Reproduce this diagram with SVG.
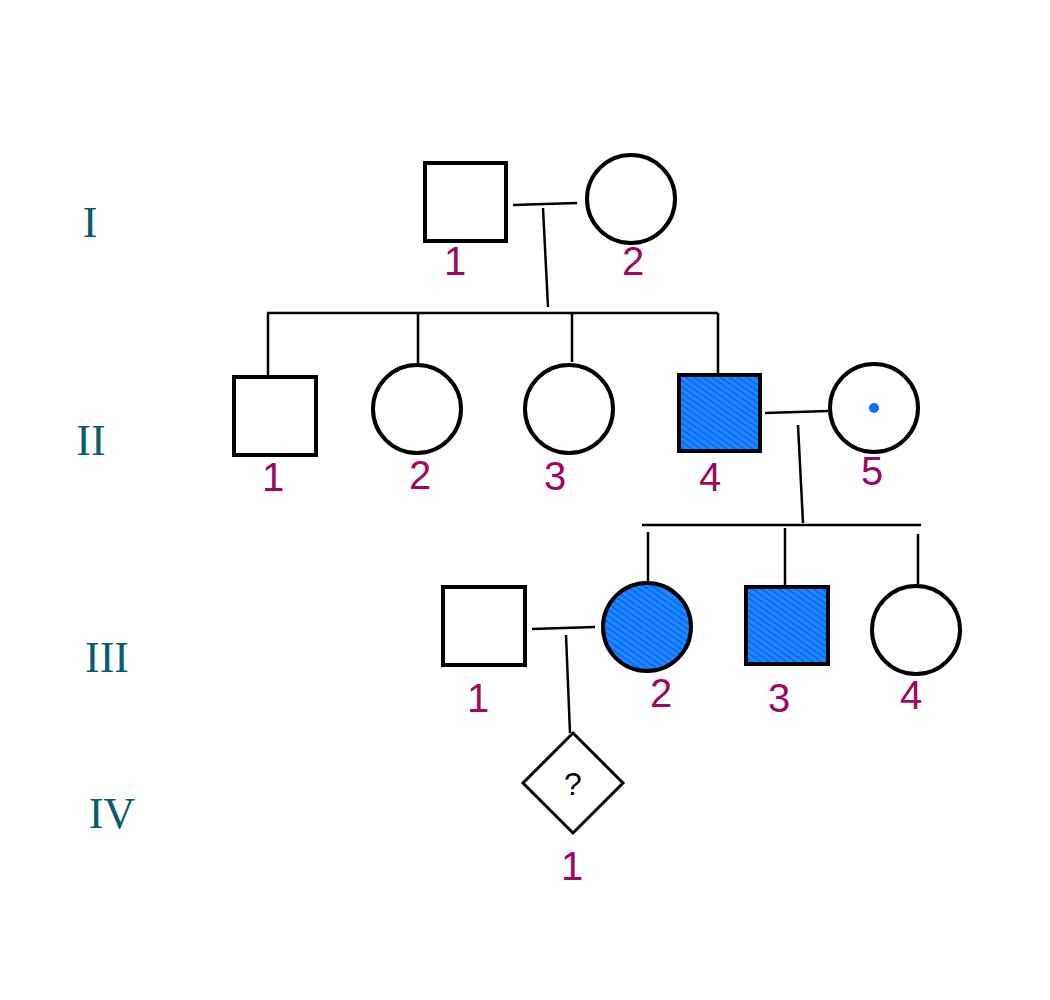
<svg xmlns="http://www.w3.org/2000/svg" width="1050" height="1000" viewBox="0 0 1050 1000">
<style>
.n{fill:none;stroke:#000;stroke-width:4}
.a{fill:url(#h);stroke:#000;stroke-width:4}
.c{stroke:#000;stroke-width:2.5;fill:none}
.g{font-family:"Liberation Serif",serif;font-size:44px;fill:#0b5d6e;text-anchor:middle}
.l{font-family:"Liberation Sans",sans-serif;font-size:40px;fill:#9c0a5e;text-anchor:middle}
</style>
<defs>
<pattern id="h" width="5" height="5" patternUnits="userSpaceOnUse" patternTransform="rotate(35)">
<rect width="5" height="5" fill="#1f86ff"/>
<line x1="0" y1="0" x2="5" y2="0" stroke="#0066f0" stroke-width="3"/>
</pattern>
</defs>
<rect width="1050" height="1000" fill="#fff"/>
<g id="gen-labels">
<text class="g" x="90" y="237">I</text>
<text class="g" x="91" y="455">II</text>
<text class="g" x="107" y="672">III</text>
<text class="g" x="112" y="828">IV</text>
</g>
<g id="connectors">
<path class="c" d="M513 205L577 203M543 208L548 307M267 313L718 313M268 313V376M418 313V365M572 313V362M718 313V374"/>
<path class="c" d="M765 413L828 411M798 425L803 523M642 525L921 525M648 532V582M785 528V586M918 534V584"/>
<path class="c" d="M532 629L595 627M566 635L570 733"/>
</g>
<g id="I-1"><rect class="n" x="425" y="163" width="81" height="78"/><text class="l" x="455" y="275">1</text></g>
<g id="I-2"><circle class="n" cx="631" cy="199" r="44"/><text class="l" x="633" y="275">2</text></g>
<g id="II-1"><rect class="n" x="234" y="377" width="82" height="78"/><text class="l" x="273" y="491">1</text></g>
<g id="II-2"><circle class="n" cx="417" cy="409" r="44"/><text class="l" x="420" y="489">2</text></g>
<g id="II-3"><circle class="n" cx="569" cy="409" r="44"/><text class="l" x="555" y="490">3</text></g>
<g id="II-4"><rect class="a" x="679" y="375" width="81" height="76"/><text class="l" x="710" y="491">4</text></g>
<g id="II-5"><circle class="n" cx="874" cy="408" r="44"/><circle cx="874" cy="408" r="5" fill="#0a6ff5"/><text class="l" x="872" y="485">5</text></g>
<g id="III-1"><rect class="n" x="443" y="587" width="82" height="78"/><text class="l" x="478" y="712">1</text></g>
<g id="III-2"><circle class="a" cx="647" cy="627" r="44"/><text class="l" x="661" y="707">2</text></g>
<g id="III-3"><rect class="a" x="746" y="587" width="82" height="77"/><text class="l" x="779" y="712">3</text></g>
<g id="III-4"><circle class="n" cx="916" cy="630" r="44"/><text class="l" x="911" y="709">4</text></g>
<g id="IV-1"><path d="M573 733L623 783L573 833L523 783Z" fill="none" stroke="#000" stroke-width="3"/><text x="573" y="795" font-family="Liberation Sans,sans-serif" font-size="32" text-anchor="middle">?</text><text class="l" x="572" y="880">1</text></g>
</svg>
